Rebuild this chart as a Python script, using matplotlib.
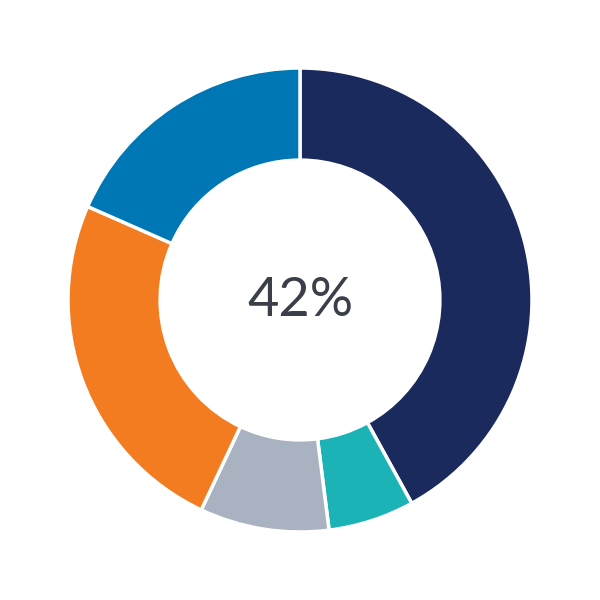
import matplotlib
matplotlib.use("Agg")
import matplotlib.pyplot as plt

labels = ["A", "B", "C", "D", "E"]
values = [42, 6, 9, 24.6, 18.4]
colors = ["#1B2A5C", "#1BB3B6", "#A8B2C1", "#F37C20", "#0077B5"]
center_text = "42%"

fig = plt.figure(figsize=(6, 6), dpi=100)
ax = fig.add_axes([0, 0, 1, 1])
ax.pie(values, colors=colors, startangle=90, counterclock=False,
       radius=1.0,
       wedgeprops=dict(width=0.397, edgecolor="white", linewidth=2.5))
lim = 300 / 232
ax.set_xlim(-lim, lim)
ax.set_ylim(-lim, lim)
ax.set_aspect("equal")
ax.axis("off")
ax.text(0, 0, center_text, ha="center", va="center", fontsize=39,
        color="#3A3F4A", family="Lato")
fig.savefig("out.png", dpi=100, facecolor="white")
